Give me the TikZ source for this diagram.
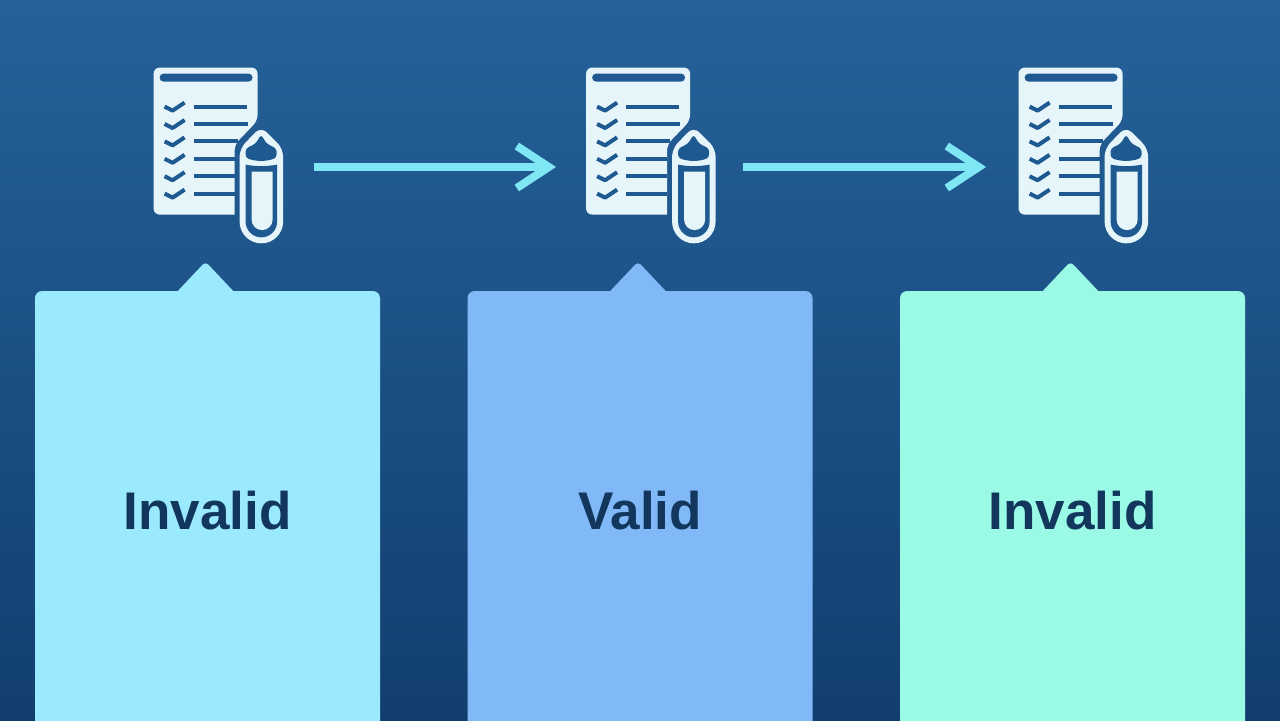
\documentclass[tikz,border=0pt]{standalone}
\usepackage{fontspec}
\setmainfont{Liberation Sans}
\usetikzlibrary{arrows.meta}

\definecolor{bgtop}{HTML}{25629A}
\definecolor{bgbottom}{HTML}{123E6F}
\definecolor{inkdark}{HTML}{1E5A91}
\definecolor{paper}{HTML}{E6F5FA}
\definecolor{flowcol}{HTML}{7FE6F4}
\definecolor{labelcol}{HTML}{12365C}
\definecolor{boxcyan}{HTML}{9BE9FF}
\definecolor{boxblue}{HTML}{80B8F8}
\definecolor{boxmint}{HTML}{9AFAE6}

\tikzset{
  answerbox/.style={minimum width=172.5pt,minimum height=220pt,inner sep=0pt,rounded corners=3.5pt,
    text=labelcol,font=\fontsize{26.5}{32}\selectfont\bfseries},
  formbox/.style={minimum width=64.5pt,minimum height=99pt,inner sep=0pt},
  flow/.style={->,draw=flowcol,line width=4pt},
  pics/formicon/.style={code={
    \fill[paper,rounded corners=3pt] (0,0) -- (104,0) -- (104,53) -- (81,77) [sharp corners] -- (81,147) [rounded corners=3pt] -- (0,147) -- cycle;
    \fill[inkdark,rounded corners=2pt] (6,6) rectangle (99,14);
    \foreach \row/\rowend in {0/93,1/94,2/84,3/81,4/81,5/81} {
      \draw[inkdark,line width=2pt,line join=round] (11,39+17.4*\row) -- (19,43+17.4*\row) -- (31,35+17.4*\row);
      \draw[inkdark,line width=2pt] (40,39+17.4*\row) -- (\rowend,39+17.4*\row);
    }
    \fill[paper,rounded corners=4pt] (107.5,59) -- (129.5,81) [sharp corners] -- (129.5,154)
      arc[start angle=0,end angle=180,radius=21.75] [rounded corners=4pt] -- (86,81) -- cycle;
    \fill[inkdark,rounded corners=1.5pt] (107.5,67) -- (113,76) -- (123,81) -- (123,90)
      .. controls (113,94) and (102,94) .. (92,90) -- (92,81) -- (102,76) -- cycle;
    \fill[inkdark] (92,97) .. controls (102,99) and (113,99) .. (123.5,97) -- (123.5,154)
      arc[start angle=0,end angle=180,radius=15.75] -- cycle;
    \fill[paper] (98,104) -- (119,104) -- (119,152) arc[start angle=0,end angle=180,radius=10.5] -- cycle;
  }}
}

\begin{document}
\begin{tikzpicture}[x=0.5pt,y=-0.5pt,>={Straight Barb[length=16pt,width=21pt]},node distance=216.25pt]
  \useasboundingbox (0,0) rectangle (1280,720);
  \clip (0,0) rectangle (1280,720);
  \shade[top color=bgtop,bottom color=bgbottom] (0,0) rectangle (1280,720);

  \node[answerbox,fill=boxcyan]  (invalidl) at (207.5,511) {Invalid};
  \node[answerbox,fill=boxblue]  (valid)    [right of=invalidl] {Valid};
  \node[answerbox,fill=boxmint]  (invalidr) [right of=valid]    {Invalid};

  \foreach \target/\tailcol in {invalidl/boxcyan,valid/boxblue,invalidr/boxmint} {
    \fill[\tailcol,rounded corners=2pt] ([xshift=-17.5pt,yshift=-3pt]\target.north) -- ([xshift=-1pt,yshift=14.5pt]\target.north)
      -- ([xshift=15.5pt,yshift=-3pt]\target.north) -- cycle;
  }

  \node[formbox] (forml) at (218.5,167) {};
  \node[formbox] (formm) [right of=forml] {};
  \node[formbox] (formr) [right of=formm] {};

  \foreach \form in {forml,formm,formr} {
    \pic at (\form.north west) {formicon};
  }

  \draw[flow,shorten <=15.5pt,shorten >=15pt] (forml) -- (formm);
  \draw[flow,shorten <=13.75pt,shorten >=16.25pt] (formm) -- (formr);
\end{tikzpicture}
\end{document}
